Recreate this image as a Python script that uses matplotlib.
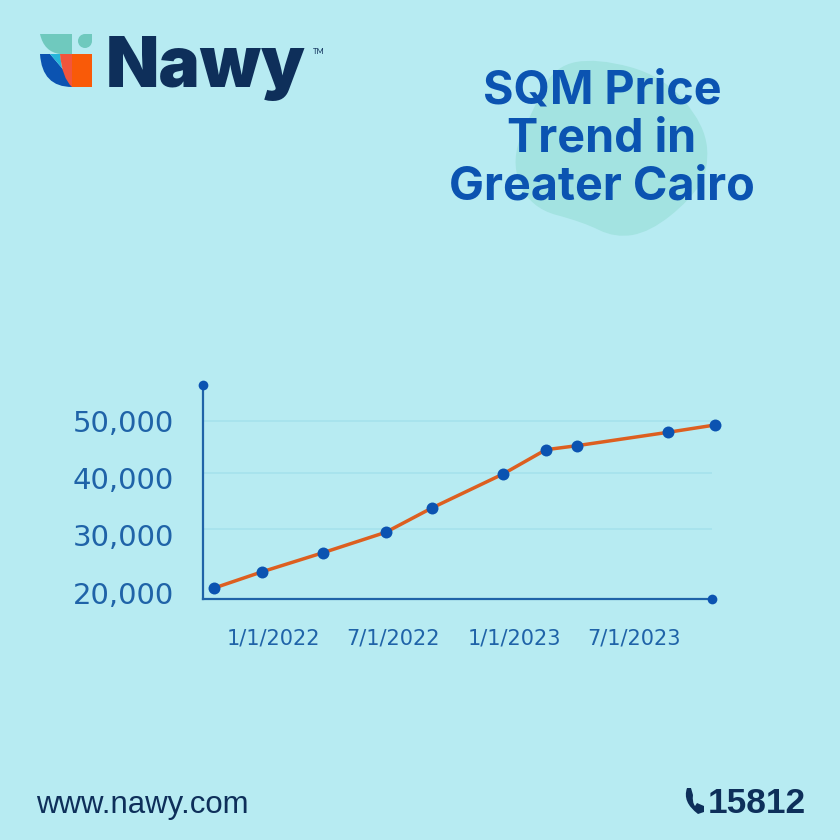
import matplotlib
matplotlib.use("Agg")
import matplotlib.pyplot as plt
from matplotlib.path import Path
from matplotlib.patches import PathPatch, Polygon, Circle
import pandas as pd

dates = ["2021-10-03", "2021-12-15", "2022-03-17", "2022-06-20", "2022-08-29",
         "2022-12-15", "2023-02-18", "2023-04-06", "2023-08-22", "2023-11-01"]
prices = [20820, 23670, 26990, 30550, 34800, 40740, 44990, 45690, 48030, 49300]
y_ticks = [20000, 30000, 40000, 50000]
y_labels = ["20,000", "30,000", "40,000", "50,000"]
x_ticks = ["2022-01-01", "2022-07-01", "2023-01-01", "2023-07-01"]
x_labels = ["1/1/2022", "7/1/2022", "1/1/2023", "7/1/2023"]
# the gridlines in the picture sit a bit off the labels
grid_values = [31100, 40900, 50000]

BG = "#B7EBF2"
BLUE = "#0B53B1"
AXIS = "#1F63A8"
NAVY = "#0E2F5A"

fig = plt.figure(figsize=(8.4, 8.4), dpi=100, facecolor=BG)

# overlay in pixel coordinates for the logo, blob and footer
bg = fig.add_axes([0, 0, 1, 1])
bg.set_xlim(0, 840)
bg.set_ylim(840, 0)
bg.axis("off")


def blob(pts):
    # closed smooth outline through the midpoints
    n = len(pts)
    mid = lambda a, b: ((a[0] + b[0]) / 2, (a[1] + b[1]) / 2)
    verts = [mid(pts[-1], pts[0])]
    codes = [Path.MOVETO]
    for i in range(n):
        verts += [pts[i], mid(pts[i], pts[(i + 1) % n])]
        codes += [Path.CURVE3, Path.CURVE3]
    return Path(verts, codes)


blob_pts = [(597, 58), (663, 76), (705, 125), (709, 170), (690, 200), (650, 232),
            (615, 238), (583, 222), (530, 208), (510, 160), (535, 105), (555, 66)]
bg.add_patch(PathPatch(blob(blob_pts), fc="#A3E3E1", ec="none"))

# logo
bg.add_patch(PathPatch(Path([(40, 34), (72, 34), (72, 54), (60, 54), (44, 52), (40, 34), (40, 34)],
                            [1, 2, 2, 2, 3, 3, 2]), fc="#6FC9BE", ec="none"))
bg.add_patch(Circle((85, 41), 7, fc="#6FC9BE", ec="none"))
bg.add_patch(Polygon([(85, 34), (92, 34), (92, 41), (85, 41)], fc="#6FC9BE", ec="none"))
bg.add_patch(PathPatch(Path([(40, 54), (50, 54), (72, 80), (72, 87), (42, 87), (40, 54)],
                            [1, 2, 2, 2, 3, 3]), fc="#0B53B1", ec="none"))
bg.add_patch(Polygon([(50, 54), (60, 54), (62, 68)], fc="#27B6DA", ec="none"))
bg.add_patch(Polygon([(72, 54), (92, 54), (92, 87), (72, 87)], fc="#F95A08", ec="none"))
bg.add_patch(PathPatch(Path([(60, 54), (72, 54), (72, 87), (62, 78), (60, 54)],
                            [1, 2, 2, 3, 3]), fc="#F2553C", ec="none"))
bg.text(106, 87, "Nawy", family="Inter", weight="black", fontsize=50, color=NAVY, va="baseline", ha="left")
bg.text(313, 54, "TM", family="Lato", fontsize=5.5, color=NAVY, va="baseline", ha="left")

# title
for label, yy in zip(["SQM Price", "Trend in", "Greater Cairo"], [103, 152, 200]):
    bg.text(602, yy, label, family="Inter", weight="bold", fontsize=33.6, color=BLUE, ha="center", va="baseline")

# footer
bg.text(36, 813, "www.nawy.com", family="Liberation Sans", fontsize=22.4, color=NAVY, va="baseline", ha="left")
bg.text(806, 813, "15812", family="Liberation Sans", weight="bold", fontsize=25.4, color=NAVY, va="baseline", ha="right")
bg.add_patch(PathPatch(Path([(687, 788), (682, 802), (698, 814), (704, 812), (704, 806), (697, 803), (695, 806),
                             (692, 802), (693, 795), (691, 788), (687, 788)],
                            [1, 3, 3, 2, 2, 2, 2, 3, 3, 2, 2]), fc=NAVY, ec="none"))

# chart
x = pd.to_datetime(dates)
ax = fig.add_axes([203 / 840, (840 - 599) / 840, 509 / 840, 214 / 840])
ax.patch.set_alpha(0)
ax.set_xlim(pd.Timestamp("2021-09-16"), pd.Timestamp("2023-10-28"))
ax.set_ylim(18900, 56300)

for v in grid_values:
    ax.axhline(v, color="#A6E2EC", lw=1.2, zorder=1)

ax.plot(x, prices, color="#DD5F20", lw=2.5, zorder=3, clip_on=False)
ax.plot(x, prices, ls="none", marker="o", ms=8.6, color=BLUE, mew=0, zorder=4, clip_on=False)

ax.plot([0, 1], [1, 0], ls="none", marker="o", ms=7, color=BLUE, mew=0, transform=ax.transAxes, clip_on=False, zorder=4)

for s in ["top", "right"]:
    ax.spines[s].set_visible(False)
for s in ["left", "bottom"]:
    ax.spines[s].set_color(AXIS)
    ax.spines[s].set_linewidth(1.6)

ax.set_yticks(y_ticks, y_labels)
ax.set_xticks(pd.to_datetime(x_ticks), x_labels)
ax.tick_params(axis="y", length=0, pad=21, labelsize=21, labelcolor=AXIS)
ax.tick_params(axis="x", length=0, pad=21, labelsize=15, labelcolor=AXIS)

fig.savefig("out.png", dpi=100, facecolor=BG)
